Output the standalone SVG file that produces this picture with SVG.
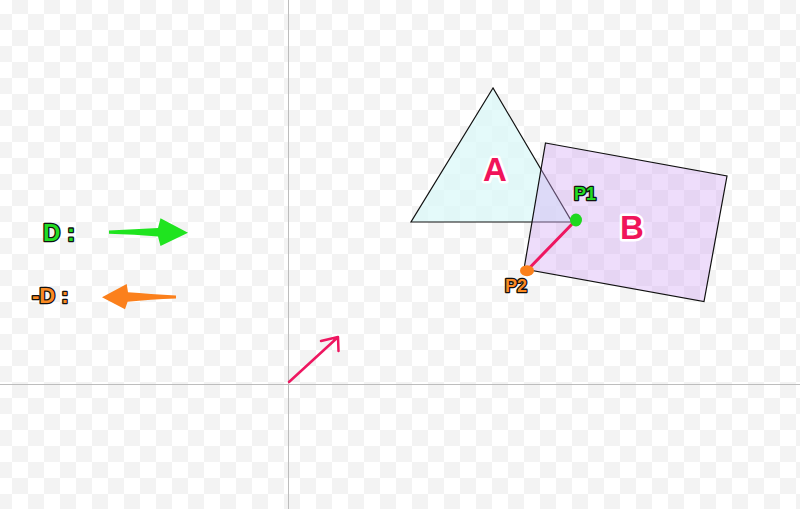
<svg xmlns="http://www.w3.org/2000/svg" width="800" height="509" viewBox="0 0 800 509">
<defs>
<pattern id="checker" x="-4" y="-2" width="32" height="32" patternUnits="userSpaceOnUse">
<rect width="32" height="32" fill="#ffffff"/>
<rect x="16" y="0" width="16" height="16" fill="#f3f3f3"/>
<rect x="0" y="16" width="16" height="16" fill="#f3f3f3"/>
</pattern>
<style>
.axis{stroke:#bdbdbd;stroke-width:1;fill:none}
.edge{stroke:#111;stroke-width:1.2;stroke-linejoin:miter}
.big{font-family:"Liberation Sans",Arial,sans-serif;font-weight:bold;font-size:33px;fill:#f0145a;stroke:#ffffff;stroke-width:5;paint-order:stroke;stroke-linejoin:round}
.small{font-family:"Liberation Sans",Arial,sans-serif;font-weight:bold;stroke:#111;stroke-width:2.6;paint-order:stroke;stroke-linejoin:round}
.red{stroke:#ee1660;fill:none;stroke-linecap:round;stroke-linejoin:round}
</style>
</defs>
<rect width="800" height="509" fill="url(#checker)"/>
<g id="axes">
<line class="axis" x1="288.5" y1="0" x2="288.5" y2="509"/>
<line class="axis" x1="0" y1="384.5" x2="800" y2="384.5"/>
</g>
<g id="node-A">
<polygon class="edge" points="493,88 411,222 572,222" fill="#d8f8f8" fill-opacity="0.7"/>
<text class="big" x="495" y="181" text-anchor="middle">A</text>
</g>
<g id="node-B">
<polygon class="edge" points="545.5,143 727,176 704,301.5 524,269" fill="#d2a6f5" fill-opacity="0.38"/>
<text class="big" x="632" y="239" text-anchor="middle">B</text>
</g>
<g id="connectors">
<line class="red" x1="576" y1="220" x2="527" y2="270.5" stroke-width="3"/>
<path class="red" d="M289,382 L337,338 M321,341 L338,337 L338.5,351" stroke-width="2.5"/>
<path d="M109,230.4 Q135,229.5 158,228 L160.5,218.3 L188,232.8 L160.5,246 L158,236.5 Q135,234.5 109,233.8 Z" fill="#1fe41f"/>
<path d="M176,295.4 Q150,294 128,292.3 L126.7,284 L102,297.3 L125,309.3 L127.6,301.8 Q150,299.5 176,298.6 Z" fill="#fb801c"/>
</g>
<g id="node-P1">
<ellipse cx="576" cy="220" rx="6" ry="6.5" fill="#1fd81f"/>
<text class="small" x="585" y="199.5" font-size="18" fill="#22dd22" text-anchor="middle">P1</text>
</g>
<g id="node-P2">
<ellipse cx="527" cy="270.7" rx="7" ry="5.5" fill="#fb801c"/>
<text class="small" x="516" y="292" font-size="18" fill="#fb8a22" text-anchor="middle">P2</text>
</g>
<g id="label-D">
<text class="small" x="43" y="241" font-size="24" fill="#22dd22">D :</text>
</g>
<g id="label-negD">
<text class="small" x="32" y="302.5" font-size="22" fill="#fb8a22">-D :</text>
</g>
</svg>
